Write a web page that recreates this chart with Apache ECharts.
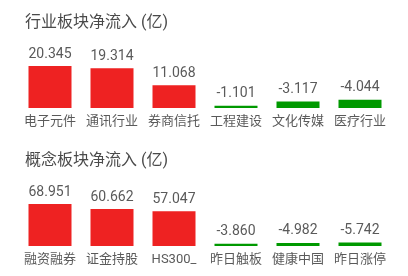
<!DOCTYPE html>
<html>
<head>
<meta charset="utf-8">
<script src="https://cdn.jsdelivr.net/npm/echarts@6/dist/echarts.min.js"></script>
<style>
html,body{margin:0;padding:0;background:#fff;}
#c{width:408px;height:276px;}
</style>
</head>
<body>
<div id="c"></div>
<script>
var title1 = '行业板块净流入 (亿)';
var categories1 = ['电子元件','通讯行业','券商信托','工程建设','文化传媒','医疗行业'];
var values1 = [20.345, 19.314, 11.068, -1.101, -3.117, -4.044];

var title2 = '概念板块净流入 (亿)';
var categories2 = ['融资融券','证金持股','HS300_','昨日触板','健康中国','昨日涨停'];
var values2 = [68.951, 60.662, 57.047, -3.860, -4.982, -5.742];

var RED = '#ee2222', GREEN = '#009900';
var FONT = 'Roboto, "Noto Sans CJK SC", sans-serif';

function seriesFor(idx, vals) {
  return {
    type: 'bar',
    xAxisIndex: idx, yAxisIndex: idx,
    barWidth: 43,
    data: vals.map(function (v) {
      return { value: Math.abs(v), itemStyle: { color: v >= 0 ? RED : GREEN } };
    }),
    label: {
      show: true, position: 'top', distance: 5,
      color: '#5a5a5a', fontSize: 14, fontFamily: FONT,
      formatter: function (p) { return vals[p.dataIndex].toFixed(3); }
    },
    silent: true
  };
}

function xAxisFor(idx, cats) {
  return {
    type: 'category', gridIndex: idx, data: cats,
    axisLine: { show: false }, axisTick: { show: false },
    axisLabel: { color: '#5a5a5a', fontSize: 13, fontFamily: FONT, margin: 7, interval: 0 }
  };
}
function yAxisFor(idx) {
  return {
    type: 'value', gridIndex: idx, min: 0,
    max: function (e) { return e.max; },
    show: false, splitLine: { show: false }
  };
}

var chart = echarts.init(document.getElementById('c'), null, { renderer: 'canvas' });
chart.setOption({
  animation: false,
  backgroundColor: '#fff',
  title: [
    { text: title1, left: 20, top: 10, textStyle: { color: '#4a4a4a', fontSize: 16, fontWeight: 'normal', fontFamily: FONT } },
    { text: title2, left: 20, top: 148, textStyle: { color: '#4a4a4a', fontSize: 16, fontWeight: 'normal', fontFamily: FONT } }
  ],
  grid: [
    { left: 19, right: 17, top: 66, height: 42 },
    { left: 19, right: 17, top: 204, height: 42 }
  ],
  xAxis: [xAxisFor(0, categories1), xAxisFor(1, categories2)],
  yAxis: [yAxisFor(0), yAxisFor(1)],
  series: [seriesFor(0, values1), seriesFor(1, values2)]
});
</script>
</body>
</html>
